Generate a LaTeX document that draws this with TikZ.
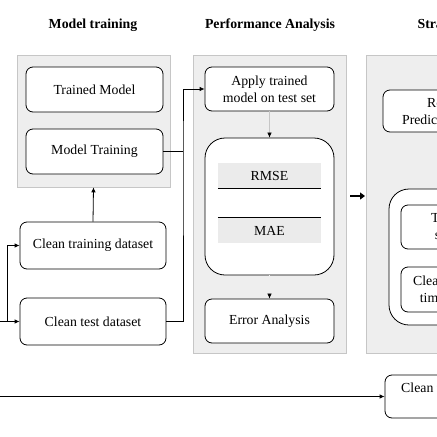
\documentclass[tikz,border=0pt]{standalone}
\usepackage{fontspec}
\setmainfont{Liberation Serif}
\usetikzlibrary{arrows.meta}
\begin{document}
\begin{tikzpicture}[x=1pt,y=-1pt,
  every node/.style={font=\fontsize{13.8}{17}\selectfont, inner sep=0pt, align=center},
  panel/.style={draw=gray!45, fill=gray!13, line width=0.6pt, rectangle},
  rbox/.style={draw=black, fill=white, line width=0.8pt, rounded corners=7pt, rectangle},
  bigbox/.style={draw=black, fill=white, line width=0.8pt, rounded corners=20pt, rectangle},
  metric/.style={fill=gray!16, rectangle, minimum width=103pt, minimum height=25pt},
  title/.style={font=\fontsize{13.8}{17}\selectfont\bfseries},
  conn/.style={line width=0.8pt, draw=black},
  tip/.style={-{Latex[length=5pt,width=4.5pt]}}
]
\clip (0,0) rectangle (437,437);
\useasboundingbox (0,0) rectangle (437,437);
\fill[white] (0,0) rectangle (437,437);

% titles
\node[title] (t1) at (93,25) {Model training};
\node[title] (t2) at (270,25) {Performance Analysis};
\node[title] (t3) at (442.5,25) {Strategy};

% panels
\node[panel, minimum width=153pt, minimum height=132pt] (panelL) at (93.5,121) {};
\node[panel, minimum width=153pt, minimum height=298pt] (panelM) at (269.5,204) {};
\node[panel, minimum width=153pt, minimum height=298pt] (panelR) at (442.5,204) {};

% left column
\node[rbox, minimum width=137pt, minimum height=45pt] (trained) at (94.5,89.5) {Trained Model};
\node[rbox, minimum width=137pt, minimum height=45pt] (mtrain) at (94.5,151.5) {Model Training};
\node[rbox, minimum width=146pt, minimum height=47pt] (ctrain) at (93,245.5) {Clean training dataset};
\node[rbox, minimum width=146pt, minimum height=47pt] (ctest) at (93,321.5) {Clean test dataset};

% middle column
\node[rbox, minimum width=129pt, minimum height=44pt] (apply) at (269.5,89) {Apply trained\\model on test set};
\node[bigbox, minimum width=129pt, minimum height=137pt] (big) at (269.5,206.5) {};
\node[metric] (rmse) at (269.5,175.5) {RMSE};
\node[metric] (mae) at (269.5,230.5) {MAE};
\draw[conn] (rmse.south west) -- (rmse.south east);
\draw[conn] (mae.north west) -- (mae.north east);
\node[rbox, minimum width=129pt, minimum height=44pt] (err) at (269.5,321) {Error Analysis};

% right column
\node[rbox, minimum width=129pt, minimum height=42pt] (real) at (447.5,111) {Results\\Predicted values};
\node[bigbox, minimum width=111pt, minimum height=136pt] (big2) at (444.5,257) {};
\node[rbox, minimum width=83pt, minimum height=44pt] (test2) at (442.5,227) {Test\\set};
\node[rbox, minimum width=83pt, minimum height=45pt] (clean2) at (442.5,289.5) {Clean data\\timeline};
\node[rbox, minimum width=129pt, minimum height=43pt] (cleanb) at (449.5,396.5) {Clean test dataset\\B};

% coordinates
\coordinate (inL) at (0,321.5);
\coordinate (inB) at (0,396.5);
\coordinate (vL) at (7,321.5);
\coordinate (vM) at (183,151.5);
\coordinate (ta) at (350,196);
\coordinate (tb) at (365,196);

% connectors
\draw[conn,tip] (inL) -- (ctest.west);
\draw[conn,tip] (vL) |- (ctrain.west);
\draw[conn,tip] (ctrain.north) -- (panelL.south);
\draw[conn] (mtrain.east) -- (vM);
\draw[conn,tip] (ctest.east) -| (vM) |- (apply.west);
\draw[line width=0.6pt, draw=gray!45, -{Latex[length=5pt,width=4.5pt,color=black]}] (apply.south) -- (big.north);
\draw[line width=0.6pt, draw=gray!13, -{Latex[length=5pt,width=4.5pt,color=black]}] (big.south) -- (err.north);
\draw[line width=2.4pt, -{Triangle[length=5pt,width=7pt]}] (ta) -- (tb);
\draw[conn,tip] (inB) -- (cleanb.west);
\end{tikzpicture}
\end{document}
